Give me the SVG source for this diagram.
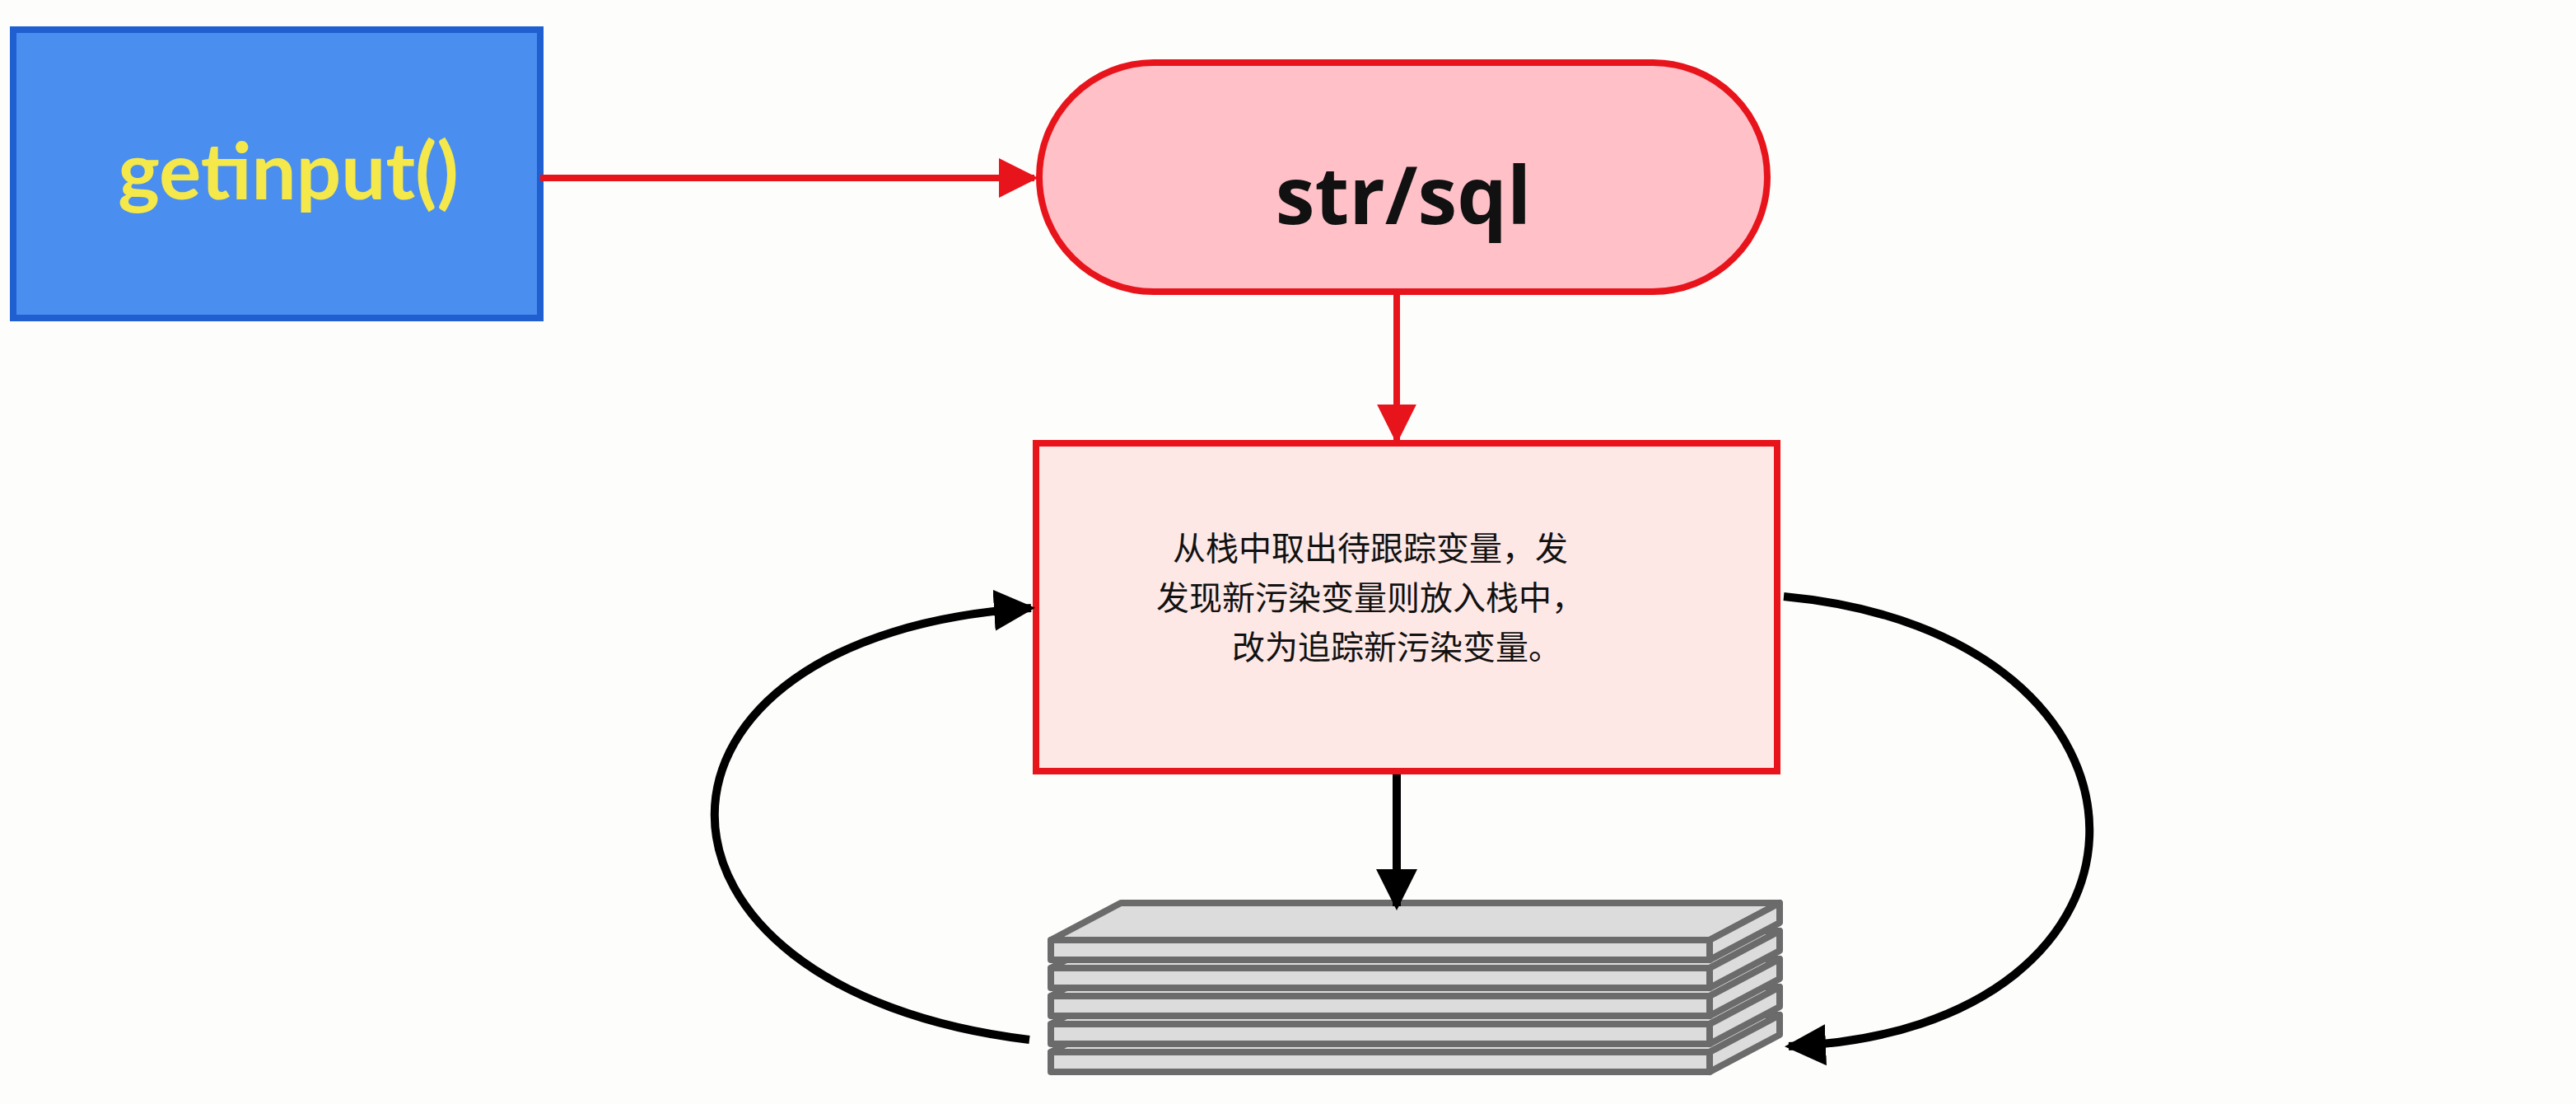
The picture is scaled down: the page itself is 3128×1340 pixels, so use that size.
<svg xmlns="http://www.w3.org/2000/svg" width="3128" height="1340" viewBox="0 0 3128 1340">
<style>
.slab{fill:#dcdcdc;stroke:#6b6b6b;stroke-width:8;stroke-linejoin:round}
.red{stroke:#e8141c;stroke-width:8;fill:none}
.blk{stroke:#000;stroke-width:10;fill:none}
</style>
<defs>
<marker id="ar" viewBox="0 0 10 10" refX="9" refY="5" markerWidth="6" markerHeight="6" markerUnits="strokeWidth" orient="auto"><path d="M0,0L10,5L0,10z" fill="#e8141c"/></marker>
<marker id="ab" viewBox="0 0 10 10" refX="9" refY="5" markerWidth="5" markerHeight="5" markerUnits="strokeWidth" orient="auto"><path d="M0,0L10,5L0,10z" fill="#000"/></marker>
</defs>
<rect width="3128" height="1340" fill="#fdfdfb"/>
<g id="getinput"><rect x="16" y="36" width="640" height="350" fill="#4a8ef0" stroke="#1f5fd0" stroke-width="8"/>
<text x="350" y="242" text-anchor="middle" font-family="Lato, 'Open Sans', sans-serif" font-weight="bold" font-size="96" fill="#f4e84a">getinput()</text></g>
<g id="strsql"><rect x="1262" y="76" width="884" height="278" rx="139" fill="#ffc0c8" stroke="#e8141c" stroke-width="8"/>
<text x="1704" y="272" text-anchor="middle" font-family="'Open Sans', Lato, sans-serif" font-weight="bold" font-size="96" fill="#111">str/sql</text></g>
<g id="process"><rect x="1258" y="538" width="900" height="398" fill="#fde8e6" stroke="#e8141c" stroke-width="8"/>
<g font-family="'Noto Sans CJK SC', sans-serif" font-size="40" fill="#111">
<text x="1424" y="680">从栈中取出待跟踪变量，发</text>
<text x="1404" y="740">发现新污染变量则放入栈中，</text>
<text x="1496" y="800">改为追踪新污染变量。</text></g></g>
<g id="stack">
<g transform="translate(0,136)"><path class="slab" d="M1361,1096H2161L2076,1141H1276Z"/><path class="slab" d="M1276,1141H2076V1165H1276Z"/><path class="slab" d="M2076,1141L2161,1096V1120L2076,1165Z"/></g>
<g transform="translate(0,102)"><path class="slab" d="M1361,1096H2161L2076,1141H1276Z"/><path class="slab" d="M1276,1141H2076V1165H1276Z"/><path class="slab" d="M2076,1141L2161,1096V1120L2076,1165Z"/></g>
<g transform="translate(0,68)"><path class="slab" d="M1361,1096H2161L2076,1141H1276Z"/><path class="slab" d="M1276,1141H2076V1165H1276Z"/><path class="slab" d="M2076,1141L2161,1096V1120L2076,1165Z"/></g>
<g transform="translate(0,34)"><path class="slab" d="M1361,1096H2161L2076,1141H1276Z"/><path class="slab" d="M1276,1141H2076V1165H1276Z"/><path class="slab" d="M2076,1141L2161,1096V1120L2076,1165Z"/></g>
<g><path class="slab" d="M1361,1096H2161L2076,1141H1276Z"/><path class="slab" d="M1276,1141H2076V1165H1276Z"/><path class="slab" d="M2076,1141L2161,1096V1120L2076,1165Z"/></g>
</g>
<g id="connectors">
<path class="red" d="M656,216H1256" marker-end="url(#ar)"/>
<path class="red" d="M1696,354V534" marker-end="url(#ar)"/>
<path class="blk" d="M1696,940V1100" marker-end="url(#ab)"/>
<path class="blk" d="M1250,1262C740,1200 740,770 1252,738" marker-end="url(#ab)"/>
<path class="blk" d="M2166,724C2660,770 2660,1250 2172,1270" marker-end="url(#ab)"/>
</g>
</svg>
